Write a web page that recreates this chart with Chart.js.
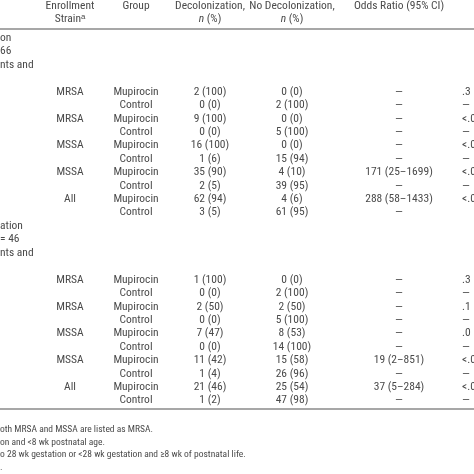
<!DOCTYPE html>
<html><head><meta charset="utf-8">
<script src="https://cdn.jsdelivr.net/npm/chart.js@4"></script>
<style>html,body{margin:0;padding:0;background:#fff}#w{width:474px;height:474px}</style>
</head><body><div id="w"><canvas id="c"></canvas></div>
<script>
const headers1 = ["Enrollment", "Group", "Decolonization,", "No Decolonization,", "Odds Ratio (95% CI)"];
const headers2 = ["Strain\u1d43", "", "n (%)", "n (%)", ""];
const strains = ["MRSA", "", "MRSA", "", "MSSA", "", "MSSA", "", "All", ""];
const groups = ["Mupirocin", "Control", "Mupirocin", "Control", "Mupirocin", "Control", "Mupirocin", "Control", "Mupirocin", "Control"];
const decol1 = ["2 (100)", "0 (0)", "9 (100)", "0 (0)", "16 (100)", "1 (6)", "35 (90)", "2 (5)", "62 (94)", "3 (5)"];
const noDecol1 = ["0 (0)", "2 (100)", "0 (0)", "5 (100)", "0 (0)", "15 (94)", "4 (10)", "39 (95)", "4 (6)", "61 (95)"];
const odds1 = ["—", "—", "—", "—", "—", "—", "171 (25–1699)", "—", "288 (58–1433)", "—"];
const pval1 = [".3", "—", "<.0", "—", "<.0", "—", "<.0", "—", "<.0", ""];
const decol2 = ["1 (100)", "0 (0)", "2 (50)", "0 (0)", "7 (47)", "0 (0)", "11 (42)", "1 (4)", "21 (46)", "1 (2)"];
const noDecol2 = ["0 (0)", "2 (100)", "2 (50)", "5 (100)", "8 (53)", "14 (100)", "15 (58)", "26 (96)", "25 (54)", "47 (98)"];
const odds2 = ["—", "—", "—", "—", "—", "—", "19 (2–851)", "—", "37 (5–284)", "—"];
const pval2 = [".3", "—", ".1", "—", ".0", "—", "<.0", "—", "<.0", "—"];
const section1Label = ["on", "66", "nts and"];
const section2Label = ["ation", "= 46", "nts and"];
const footnotes = ["oth MRSA and MSSA are listed as MRSA.", "on and <8 wk postnatal age.", "o 28 wk gestation or <28 wk gestation and \u22658 wk of postnatal life.", "."];

const colX = [70, 136, 210, 292, 399, 468];
const FONT = '"Liberation Sans Narrow", "Roboto Condensed", "Liberation Sans", sans-serif';
const COLOR = '#4a4a4a';

const tablePlugin = {
  id: 'table',
  afterDraw(chart) {
    const ctx = chart.ctx, xs = chart.scales.x, ys = chart.scales.y;
    const X = v => xs.getPixelForValue(v), Y = v => ys.getPixelForValue(v);
    ctx.save();
    ctx.fillStyle = COLOR;
    ctx.textBaseline = 'middle';
    ctx.font = '11.5px ' + FONT;
    ctx.textAlign = 'center';
    headers1.forEach((t, i) => ctx.fillText(t, X(colX[i]), Y(6)));
    headers2.forEach((t, i) => {
      if (!t) return;
      if (t === "n (%)") {
        ctx.font = 'italic 11.5px ' + FONT;
        const w1 = ctx.measureText("n").width;
        ctx.font = '11.5px ' + FONT;
        const w2 = ctx.measureText(" (%)").width;
        const x0 = X(colX[i]) - (w1 + w2) / 2;
        ctx.textAlign = 'left';
        ctx.font = 'italic 11.5px ' + FONT; ctx.fillText("n", x0, Y(19));
        ctx.font = '11.5px ' + FONT; ctx.fillText(" (%)", x0 + w1, Y(19));
        ctx.textAlign = 'center';
      } else ctx.fillText(t, X(colX[i]), Y(19));
    });
    ctx.textAlign = 'left';
    section1Label.forEach((t, i) => ctx.fillText(t, X(0), Y(38 + i * 13.5)));
    section2Label.forEach((t, i) => ctx.fillText(t, X(0), Y(226 + i * 13.5)));
    const drawSection = (top, d, n, o, p) => {
      for (let r = 0; r < 10; r++) {
        const y = Y(top + r * 13.4);
        ctx.textAlign = 'center';
        ctx.fillText(strains[r], X(colX[0]), y);
        ctx.fillText(groups[r], X(colX[1]), y);
        ctx.fillText(d[r], X(colX[2]), y);
        ctx.fillText(n[r], X(colX[3]), y);
        ctx.fillText(o[r], X(colX[4]), y);
        ctx.textAlign = 'left';
        ctx.fillText(p[r], X(462), y);
      }
    };
    drawSection(92, decol1, noDecol1, odds1, pval1);
    drawSection(280, decol2, noDecol2, odds2, pval2);
    ctx.font = '9.5px ' + FONT;
    ctx.textAlign = 'left';
    footnotes.forEach((t, i) => ctx.fillText(t, X(0), Y(430 + i * 12.5)));
    ctx.strokeStyle = '#8a8a8a';
    ctx.lineWidth = 1.5;
    [29, 409].forEach(v => { ctx.beginPath(); ctx.moveTo(X(0), Y(v)); ctx.lineTo(X(474), Y(v)); ctx.stroke(); });
    ctx.restore();
  }
};

new Chart(document.getElementById('c'), {
  type: 'scatter',
  data: { datasets: [{ data: [], pointRadius: 0 }] },
  options: {
    responsive: true, maintainAspectRatio: false, animation: false,
    layout: { padding: 0 },
    plugins: { legend: { display: false }, tooltip: { enabled: false } },
    scales: {
      x: { type: 'linear', min: 0, max: 474, display: false },
      y: { type: 'linear', min: 0, max: 474, reverse: true, display: false }
    }
  },
  plugins: [tablePlugin]
});
</script></body></html>
